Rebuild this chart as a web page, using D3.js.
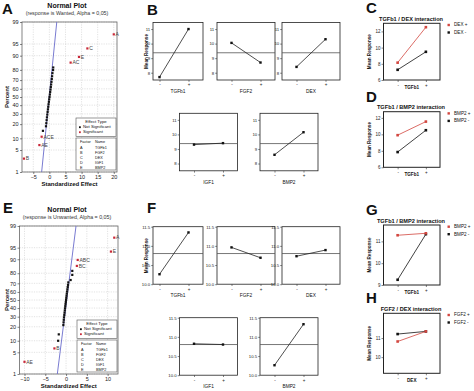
<!DOCTYPE html>
<html>
<head>
<meta charset="utf-8">
<script src="https://cdn.jsdelivr.net/npm/d3@7"></script>
<style>
  body { margin: 0; background: #fff; }
  svg { display: block; font-family: "Liberation Sans", Arial, sans-serif; }
</style>
</head>
<body>
<svg id="fig" width="474" height="391"></svg>
<script>
"use strict";

// ---- data ----
const factorCodes = ["A", "B", "C", "D", "E"];
const factorNames = ["TGFb1", "FGF2", "DEX", "IGF1", "BMP2"];
const percentTicks = [1, 5, 10, 20, 30, 40, 50, 60, 70, 80, 90, 95, 99];
const levels = ["-", "+"];

// A: normal plot, response is wanted
const wantedEffectTicks = [-5, 0, 5, 10, 15, 20];
const wantedSigTerms = ["B", "AE", "ACE", "AC", "E", "C", "A"];
const wantedSigEffects = [-7.9, -3.1, -2.4, 6.6, 9.2, 11.8, 20.0];
const wantedSigPercents = [2.8, 6.8, 10.9, 85.7, 89.3, 93.4, 97.4];
const wantedNsEffects = [-2.0, -1.05, -0.95, -0.85, -0.75, -0.65, -0.55, -0.45, -0.35, -0.25, -0.15, -0.05,
  0.05, 0.15, 0.25, 0.35, 0.45, 0.55, 0.65, 0.75, 0.85, 0.95, 1.15, 1.2];
const wantedNsPercents = [14.7, 18.2, 20.8, 23.6, 26.4, 29.3, 32.2, 35.1, 38.1, 41.1, 44.1, 47.1,
  50.1, 53.1, 56.1, 59.1, 62.1, 65.1, 68.1, 71.1, 74.0, 77.0, 79.8, 82.0];
const wantedLineEffects = [-2.4, 2.3];
const linePercents = [1, 99];

// E: normal plot, response is unwanted
const unwantedEffectTicks = [-10, -5, 0, 5, 10];
const unwantedSigTerms = ["AE", "B", "BC", "ABC", "E", "A"];
const unwantedSigEffects = [-10.0, -2.8, 2.6, 2.8, 10.8, 11.6];
const unwantedSigPercents = [2.6, 6.4, 85.8, 89.6, 93.6, 97.5];
const unwantedNsEffects = [-1.9, -1.75, -0.65, -0.6, -0.55, -0.5, -0.42, -0.36, -0.3, -0.24, -0.18, -0.12,
  -0.06, 0, 0.06, 0.12, 0.18, 0.25, 0.32, 0.4, 0.48, 0.55, 1.1, 1.5, 1.5];
const unwantedNsPercents = [10, 14, 21.5, 24.1, 26.7, 29.3, 31.9, 34.5, 37.1, 39.7, 42.3, 44.9,
  47.5, 50.1, 52.7, 55.3, 57.9, 60.5, 63.1, 65.7, 68.3, 71.0, 73.5, 78.5, 82];
const unwantedLineEffects = [-2.1, 2.4];

// B / F: main effects (mean response at - and +)
const wantedGrandMean = 9.37;
const wantedMainLow = [7.7, 10.05, 8.4, 9.3, 8.6];
const wantedMainHigh = [11.0, 8.7, 10.3, 9.4, 10.15];
const wantedMainTicks = [8, 9, 10, 11];
const unwantedGrandMean = 10.8;
const unwantedMainLow = [10.26, 10.96, 10.73, 10.82, 10.26];
const unwantedMainHigh = [11.35, 10.69, 10.89, 10.80, 11.33];
const unwantedMainTicks = [10.0, 10.5, 11.0, 11.5];

// C, D, G, H: interactions (first entry = "+" series, second = "-" series)
const cDexPlus = [8.14, 12.52], cDexMinus = [7.26, 9.48];
const dBmpPlus = [9.9, 11.55], dBmpMinus = [7.85, 10.5];
const gBmpPlus = [11.28, 11.37], gBmpMinus = [9.24, 11.33];
const hFgfPlus = [10.82, 11.35], hFgfMinus = [11.21, 11.35];

// ---- drawing ----
const svg = d3.select("#fig");
const sigRed = "#c8283a", lineRed = "#d2463f", fitBlue = "#6a6ccc";

function probit(p) { // Acklam's inverse normal
  const a = [-39.69683028665376, 220.9460984245205, -275.9285104469687, 138.3577518672690, -30.66479806614716, 2.506628277459239];
  const b = [-54.47609879822406, 161.5858368580409, -155.6989798598866, 66.80131188771972, -13.28068155288572];
  const c = [-0.007784894002430293, -0.3223964580411365, -2.400758277161838, -2.549732539343734, 4.374664141464968, 2.938163982698783];
  const d = [0.007784695709041462, 0.3224671290700398, 2.445134137142996, 3.754408661907416];
  const tail = q => (((((c[0]*q+c[1])*q+c[2])*q+c[3])*q+c[4])*q+c[5]) / ((((d[0]*q+d[1])*q+d[2])*q+d[3])*q+1);
  if (p < 0.02425) return tail(Math.sqrt(-2 * Math.log(p)));
  if (p > 1 - 0.02425) return -tail(Math.sqrt(-2 * Math.log(1 - p)));
  let q = p - 0.5, r = q * q;
  return (((((a[0]*r+a[1])*r+a[2])*r+a[3])*r+a[4])*r+a[5])*q / (((((b[0]*r+b[1])*r+b[2])*r+b[3])*r+b[4])*r+1);
}

function text(g, x, y, t, size, opts = {}) {
  return g.append("text").attr("x", x).attr("y", y).attr("font-size", size)
    .attr("font-weight", opts.bold ? "bold" : null)
    .attr("text-anchor", opts.anchor || "start")
    .attr("fill", opts.fill || "#111")
    .attr("transform", opts.rotate ? `rotate(-90,${x},${y})` : null)
    .text(t);
}

function styleAxis(ax, size) {
  ax.select(".domain").remove();
  ax.selectAll("text").attr("font-size", size).attr("fill", "#222");
  ax.selectAll("line").attr("stroke", "#333").attr("stroke-width", 0.6);
}

function normalPlot(o) {
  let g = svg.append("g");
  let x = d3.scaleLinear().domain(o.xDomain).range([o.left, o.right]);
  let z = d3.scaleLinear().domain([probit(0.01), probit(0.99)]).range([o.bottom, o.top]);
  let y = p => z(probit(p / 100));

  text(g, o.cx, o.top - 14.5, "Normal Plot", 7, { bold: true, anchor: "middle" });
  text(g, o.cx, o.top - 7.5, o.subtitle, 5.3, { anchor: "middle", fill: "#333" });

  g.append("g").selectAll("line").data(o.xTicks).join("line")
    .attr("x1", d => x(d)).attr("x2", d => x(d)).attr("y1", o.top).attr("y2", o.bottom);
  g.append("g").selectAll("line").data(percentTicks).join("line")
    .attr("x1", o.left).attr("x2", o.right).attr("y1", d => y(d)).attr("y2", d => y(d));
  g.selectAll("g line").attr("stroke", "#c4c4c4").attr("stroke-width", 0.5).attr("stroke-dasharray", "1.2,1.2");

  g.append("rect").attr("x", o.left).attr("y", o.top).attr("width", o.right - o.left).attr("height", o.bottom - o.top)
    .attr("fill", "none").attr("stroke", "#666").attr("stroke-width", 0.8);

  let xa = g.append("g").attr("transform", `translate(0,${o.bottom})`)
    .call(d3.axisBottom(x).tickValues(o.xTicks).tickSize(2).tickPadding(1.5));
  styleAxis(xa, 5.5);
  let ya = g.append("g").attr("transform", `translate(${o.left},0)`)
    .call(d3.axisLeft(z).tickValues(percentTicks.map(p => probit(p / 100))).tickFormat((d, i) => percentTicks[i]).tickSize(2).tickPadding(1.5));
  styleAxis(ya, 5.5);

  text(g, (o.left + o.right) / 2, o.bottom + 14, "Standardized Effect", 6, { bold: true, anchor: "middle" });
  text(g, 9, (o.top + o.bottom) / 2, "Percent", 6, { bold: true, anchor: "middle", rotate: true });

  // fitted line
  let fit = o.lineEffects.map((e, i) => [x(e), y(linePercents[i])]);
  g.append("path").attr("d", d3.line()(fit)).attr("stroke", fitBlue).attr("stroke-width", 0.9).attr("fill", "none");

  g.append("g").selectAll("rect").data(o.nsEffects).join("rect")
    .attr("x", (d, i) => x(d) - 1.1).attr("y", (d, i) => y(o.nsPercents[i]) - 1.1)
    .attr("width", 2.2).attr("height", 2.2).attr("fill", "#111");
  g.append("g").selectAll("rect").data(o.sigEffects).join("rect")
    .attr("x", (d, i) => x(d) - 1.1).attr("y", (d, i) => y(o.sigPercents[i]) - 1.1)
    .attr("width", 2.2).attr("height", 2.2).attr("fill", sigRed);
  g.append("g").selectAll("text").data(o.sigTerms).join("text")
    .attr("x", (d, i) => x(o.sigEffects[i]) + 1.8).attr("y", (d, i) => y(o.sigPercents[i]) + 1.8)
    .attr("font-size", 5).attr("fill", "#444").text(d => d);

  // legend boxes
  let lx = o.right - 41, lw = 40;
  let b1 = o.bottom - 54, b2 = o.bottom - 34;
  g.append("rect").attr("x", lx).attr("y", b1).attr("width", lw).attr("height", 18.5)
    .attr("fill", "#fff").attr("stroke", "#555").attr("stroke-width", 0.6);
  text(g, lx + lw / 2, b1 + 5, "Effect Type", 4.3, { anchor: "middle" });
  [["Not Significant", "#111"], ["Significant", sigRed]].forEach(([t, col], i) => {
    g.append("rect").attr("x", lx + 3).attr("y", b1 + 8.3 + i * 5).attr("width", 1.8).attr("height", 1.8).attr("fill", col);
    text(g, lx + 7, b1 + 10.2 + i * 5, t, 4.3);
  });
  g.append("rect").attr("x", lx).attr("y", b2).attr("width", lw).attr("height", 32)
    .attr("fill", "#fff").attr("stroke", "#555").attr("stroke-width", 0.6);
  text(g, lx + 4, b2 + 5.2, "Factor", 3.8);
  text(g, lx + 19, b2 + 5.2, "Name", 3.8);
  factorCodes.forEach((f, i) => {
    text(g, lx + 4, b2 + 10.8 + i * 5, f, 3.8);
    text(g, lx + 19, b2 + 10.8 + i * 5, factorNames[i], 3.8);
  });
}

function mainPlot(o) {
  let g = svg.append("g");
  let x = d3.scaleLinear().domain([0.5, 2.5]).range([o.right - 58, o.right]);
  let y = d3.scaleLinear().domain(o.yDomain).range([o.bottom, o.top]);
  g.append("rect").attr("x", o.left).attr("y", o.top).attr("width", o.right - o.left).attr("height", o.bottom - o.top)
    .attr("fill", "none").attr("stroke", "#222").attr("stroke-width", 0.8);
  let ya = g.append("g").attr("transform", `translate(${o.left},0)`)
    .call(d3.axisLeft(y).tickValues(o.yTicks).tickFormat(o.fmt).tickSize(1.8).tickPadding(1));
  styleAxis(ya, 4.3);
  let xa = g.append("g").attr("transform", `translate(0,${o.bottom})`)
    .call(d3.axisBottom(x).tickValues([1, 2]).tickFormat((d, i) => levels[i]).tickSize(1.8).tickPadding(1.5));
  styleAxis(xa, 4.5);
  g.append("line").attr("x1", o.left).attr("x2", o.right).attr("y1", y(o.mean)).attr("y2", y(o.mean))
    .attr("stroke", "#555").attr("stroke-width", 0.8);
  let pts = o.values.map((v, i) => [x(i + 1), y(v)]);
  g.append("path").attr("d", d3.line()(pts)).attr("stroke", "#222").attr("stroke-width", 0.8).attr("fill", "none");
  g.selectAll(".pt").data(pts).join("rect").attr("x", d => d[0] - 1.2).attr("y", d => d[1] - 1.2)
    .attr("width", 2.4).attr("height", 2.4).attr("fill", "#111");
  text(g, (o.left + o.right) / 2, o.bottom + 13, o.name, 4.8, { anchor: "middle" });
}

function interactionPlot(o) {
  let g = svg.append("g");
  let left = 383.5, right = 440;
  let x = d3.scaleLinear().domain([0.5, 2.5]).range([left, right]);
  let y = d3.scaleLinear().domain(o.yDomain).range([o.bottom, o.top]);
  text(g, 366, o.top - 10, o.letter, 15, { bold: true });
  text(g, 411, o.top - 2.5, o.title, 5.6, { bold: true, anchor: "middle" });
  g.append("rect").attr("x", left).attr("y", o.top).attr("width", right - left).attr("height", o.bottom - o.top)
    .attr("fill", "none").attr("stroke", "#222").attr("stroke-width", 1);
  let ya = g.append("g").attr("transform", `translate(${left},0)`)
    .call(d3.axisLeft(y).tickValues(o.yTicks).tickFormat(d3.format("d")).tickSize(2).tickPadding(1));
  styleAxis(ya, 4.5);
  let xa = g.append("g").attr("transform", `translate(0,${o.bottom})`)
    .call(d3.axisBottom(x).tickValues([1, 2]).tickFormat((d, i) => levels[i]).tickSize(2).tickPadding(1.5));
  styleAxis(xa, 4.5);
  text(g, 371, (o.top + o.bottom) / 2, "Mean Response", 4.6, { bold: true, anchor: "middle", rotate: true });
  text(g, (left + right) / 2, o.bottom + 9, o.xName, 4.6, { bold: true, anchor: "middle" });

  [[o.minus, "#111"], [o.plus, lineRed]].forEach(([vals, col]) => {
    let pts = vals.map((v, i) => [x(i + 1), y(v)]);
    g.append("path").attr("d", d3.line()(pts)).attr("stroke", col).attr("stroke-width", 0.8).attr("fill", "none");
    g.selectAll(null).data(pts).join("rect").attr("x", d => d[0] - 1.3).attr("y", d => d[1] - 1.3)
      .attr("width", 2.6).attr("height", 2.6).attr("fill", col);
  });
  [[o.series + " +", lineRed], [o.series + " -", "#111"]].forEach(([t, col], i) => {
    g.append("rect").attr("x", 447.5).attr("y", o.top + 0.5 + i * 7.5).attr("width", 2.4).attr("height", 2.4).attr("fill", col);
    text(g, 454, o.top + 3 + i * 7.5, t, 4.6);
  });
}

// panel letters
[["A", 2, 14], ["B", 147, 15], ["E", 3, 213], ["F", 147, 213]].forEach(([t, x, y]) =>
  text(svg, x, y, t, 15, { bold: true }));

normalPlot({ left: 22, right: 117, top: 22, bottom: 172, cx: 67, xDomain: [-8.5, 21], xTicks: wantedEffectTicks,
  subtitle: "(response is Wanted, Alpha = 0,05)", lineEffects: wantedLineEffects,
  sigTerms: wantedSigTerms, sigEffects: wantedSigEffects, sigPercents: wantedSigPercents,
  nsEffects: wantedNsEffects, nsPercents: wantedNsPercents });
normalPlot({ left: 19.5, right: 118, top: 226, bottom: 374, cx: 67, xDomain: [-11.2, 12.5], xTicks: unwantedEffectTicks,
  subtitle: "(response is Unwanted, Alpha = 0,05)", lineEffects: unwantedLineEffects,
  sigTerms: unwantedSigTerms, sigEffects: unwantedSigEffects, sigPercents: unwantedSigPercents,
  nsEffects: unwantedNsEffects, nsPercents: unwantedNsPercents });

// main effects grids: three panels on top row, two below
const mainFrames = [
  { left: 153, right: 203, row: 0 }, { left: 217, right: 275, row: 0 }, { left: 282, right: 340, row: 0 },
  { left: 179.5, right: 237.5, row: 1 }, { left: 260, right: 318, row: 1 }
];
[[[7.5, 11.45], wantedMainTicks, d3.format("d"), wantedGrandMean, wantedMainLow, wantedMainHigh, 22.5, 113.3],
 [[10.0, 11.5], unwantedMainTicks, d3.format(".1f"), unwantedGrandMean, unwantedMainLow, unwantedMainHigh, 226.7, 317.7]]
  .forEach(([dom, ticks, fmt, mean, low, high, top0, top1]) => {
    mainFrames.forEach((f, i) => {
      let top = f.row ? top1 : top0;
      mainPlot({ left: f.left, right: f.right, top: top, bottom: top + 57.5, yDomain: dom, yTicks: ticks, fmt: fmt,
        mean: mean, values: [low[i], high[i]], name: factorNames[i] });
    });
    text(svg, 148, top0 + 29, "Mean Response", 4.6, { bold: true, anchor: "middle", rotate: true });
  });

interactionPlot({ letter: "C", title: "TGFb1 / DEX interaction", top: 23.3, bottom: 80, yDomain: [6, 13], yTicks: [6, 8, 10, 12],
  plus: cDexPlus, minus: cDexMinus, series: "DEX", xName: "TGFb1" });
interactionPlot({ letter: "D", title: "TGFb1 / BMP2 interaction", top: 111.7, bottom: 167.3, yDomain: [6, 12.75], yTicks: [6, 8, 10, 12],
  plus: dBmpPlus, minus: dBmpMinus, series: "BMP2", xName: "TGFb1" });
interactionPlot({ letter: "G", title: "TGFb1 / BMP2 interaction", top: 225, bottom: 285, yDomain: [9, 11.75], yTicks: [9, 10, 11],
  plus: gBmpPlus, minus: gBmpMinus, series: "BMP2", xName: "TGFb1" });
interactionPlot({ letter: "H", title: "FGF2 / DEX interaction", top: 313.3, bottom: 373.3, yDomain: [9.15, 12.3], yTicks: [10, 11],
  plus: hFgfPlus, minus: hFgfMinus, series: "FGF2", xName: "DEX" });
</script>
</body>
</html>
